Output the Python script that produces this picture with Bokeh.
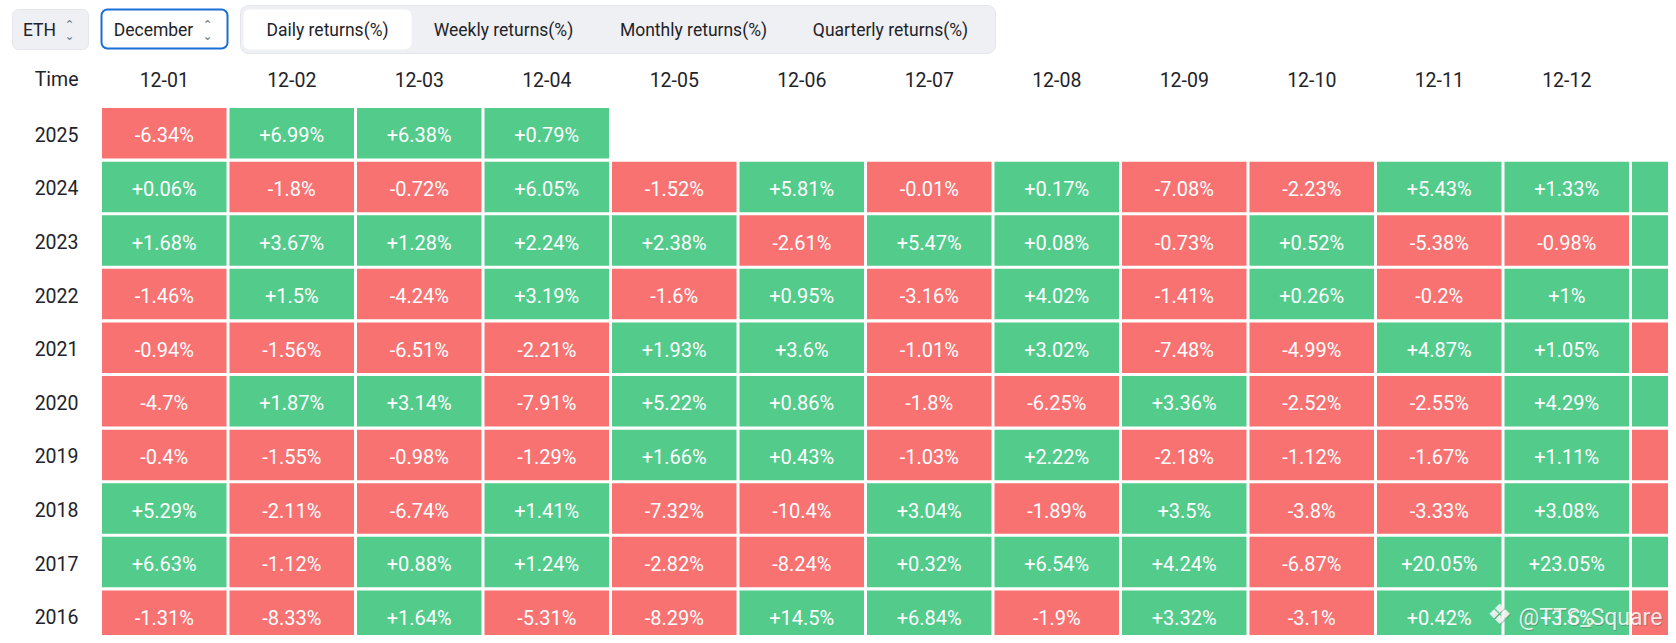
from bokeh.plotting import figure
from bokeh.models import Range1d, Label, BoxAnnotation, ColumnDataSource
from bokeh.core.properties import value
from bokeh.embed import file_html
from bokeh.resources import INLINE

# ---------------- data ----------------
dates = ["12-01", "12-02", "12-03", "12-04", "12-05", "12-06", "12-07",
         "12-08", "12-09", "12-10", "12-11", "12-12"]
years = ["2025", "2024", "2023", "2022", "2021", "2020", "2019", "2018", "2017", "2016"]

r2025 = [-6.34, 6.99, 6.38, 0.79]
r2024 = [0.06, -1.8, -0.72, 6.05, -1.52, 5.81, -0.01, 0.17, -7.08, -2.23, 5.43, 1.33]
r2023 = [1.68, 3.67, 1.28, 2.24, 2.38, -2.61, 5.47, 0.08, -0.73, 0.52, -5.38, -0.98]
r2022 = [-1.46, 1.5, -4.24, 3.19, -1.6, 0.95, -3.16, 4.02, -1.41, 0.26, -0.2, 1.0]
r2021 = [-0.94, -1.56, -6.51, -2.21, 1.93, 3.6, -1.01, 3.02, -7.48, -4.99, 4.87, 1.05]
r2020 = [-4.7, 1.87, 3.14, -7.91, 5.22, 0.86, -1.8, -6.25, 3.36, -2.52, -2.55, 4.29]
r2019 = [-0.4, -1.55, -0.98, -1.29, 1.66, 0.43, -1.03, 2.22, -2.18, -1.12, -1.67, 1.11]
r2018 = [5.29, -2.11, -6.74, 1.41, -7.32, -10.4, 3.04, -1.89, 3.5, -3.8, -3.33, 3.08]
r2017 = [6.63, -1.12, 0.88, 1.24, -2.82, -8.24, 0.32, 6.54, 4.24, -6.87, 20.05, 23.05]
r2016 = [-1.31, -8.33, 1.64, -5.31, -8.29, 14.5, 6.84, -1.9, 3.32, -3.1, 0.42, 3.6]
# next column (12-13) is cut off at the right edge: only its sign (colour) is visible
next_col_sign = [None, "+", "+", "+", "-", "+", "-", "-", "+", "-"]

rows = [r2025, r2024, r2023, r2022, r2021, r2020, r2019, r2018, r2017, r2016]

tabs = ["Daily returns(%)", "Weekly returns(%)", "Monthly returns(%)", "Quarterly returns(%)"]
coin = "ETH"
month = "December"
row_title = "Time"
watermark = "@TTS_Square"

RED = "#f87272"
GREEN = "#52cb8b"
DARK = "#1e2329"


def fmt(v):
    s = f"{v:+.2f}".rstrip("0").rstrip(".")
    return s + "%"


cx, cy, ccol = [], [], []
tx, ty, tlab = [], [], []
for r, vals in enumerate(rows):
    for c, v in enumerate(vals):
        cx.append(c)
        cy.append(r)
        ccol.append(GREEN if v >= 0 else RED)
        tx.append(c)
        ty.append(r)
        tlab.append(fmt(v))
    s = next_col_sign[r]
    if s is not None:
        cx.append(len(dates))
        cy.append(r)
        ccol.append(GREEN if s == "+" else RED)

cells = ColumnDataSource(dict(x=cx, y=cy, color=ccol))
texts = ColumnDataSource(dict(x=tx, y=ty, label=tlab))

# ---------------- layout (pixels) ----------------
W, H = 1668, 635
LEFT, TOP = 100, 106        # where the grid starts inside the canvas
CW, RH = 127.5, 53.6        # column / row pitch


def X(px):
    return -0.5 + (px - LEFT) / CW


def Y(py):
    return -0.5 + (py - TOP) / RH


p = figure(width=W, height=H, output_backend="svg", toolbar_location=None,
           x_range=Range1d(X(0), X(W)), y_range=Range1d(Y(H), Y(0)),
           x_axis_location=None, y_axis_location=None,
           min_border_left=0, min_border_top=0,
           min_border_right=0, min_border_bottom=0)
p.outline_line_color = None
p.xgrid.grid_line_color = None
p.ygrid.grid_line_color = None
p.background_fill_color = "white"
p.border_fill_color = "white"

# heat-map cells
p.rect(x="x", y="y", width=124.5 / CW, height=50.5 / RH, fill_color="color",
       line_color=None, source=cells)
p.text(x="x", y="y", text="label", text_align="center", text_baseline="middle",
       text_color="white", text_font=value("Roboto"), text_font_size="20px",
       y_offset=2, source=texts)

# column headers and row labels
p.text(x=list(range(len(dates))), y=[Y(79)] * len(dates), text=dates,
       text_align="center", text_baseline="middle", text_color=DARK,
       text_font=value("Roboto"), text_font_size="19.5px")
p.text(x=[X(78)] * len(years), y=list(range(len(years))), text=years,
       text_align="right", text_baseline="middle", text_color=DARK,
       text_font=value("Roboto"), text_font_size="19.5px", y_offset=1)
p.text(x=[X(78)], y=[Y(79)], text=[row_title],
       text_align="right", text_baseline="middle", text_color=DARK,
       text_font=value("Roboto"), text_font_size="19.5px")


def box(l, r, t, b, fill, line=None, lw=1, radius=6):
    p.add_layout(BoxAnnotation(left=l, right=r, top=t, bottom=b,
                               left_units="canvas", right_units="canvas",
                               top_units="canvas", bottom_units="canvas",
                               fill_color=fill, fill_alpha=1,
                               line_color=line, line_alpha=1, line_width=lw,
                               border_radius=radius))


def lab(x, y, text, size, color, font="Roboto", align="center", alpha=1.0):
    p.add_layout(Label(x=x, y=y, x_units="canvas", y_units="canvas", text=text,
                       text_font=font, text_font_size=size, text_color=color,
                       text_align=align, text_baseline="middle", text_alpha=alpha))


# controls
box(12, 88, 9, 49, "#eef0f3", "#e4e6ea")
lab(39, 29, coin, "17.5px", DARK)
lab(69, 24, "\u2303", "12px", "#707a8a", font="DejaVu Sans")
lab(69, 35, "\u2304", "12px", "#707a8a", font="DejaVu Sans")

box(101, 227, 9, 48, "white", "#1a6fd6", lw=2)
lab(153, 29, month, "17.5px", DARK)
lab(207, 24, "\u2303", "12px", "#707a8a", font="DejaVu Sans")
lab(207, 35, "\u2304", "12px", "#707a8a", font="DejaVu Sans")

box(240, 995, 5, 53, "#eef0f3", "#e3e6ea", radius=8)
box(243, 411, 9, 49, "white", None)
for t, tcx in zip(tabs, [327, 503, 693, 890]):
    lab(tcx, 29, t, "17.5px", DARK)

# watermark
lab(1500, 615, "\u2756", "28px", "#555555", font="DejaVu Sans", alpha=0.35)
lab(1499, 614, "\u2756", "28px", "white", font="DejaVu Sans", alpha=0.85)
lab(1519, 618, watermark, "23px", "#555555", align="left", alpha=0.35)
lab(1518, 617, watermark, "23px", "white", align="left", alpha=0.85)

open("out.html", "w").write(file_html(p, INLINE))
